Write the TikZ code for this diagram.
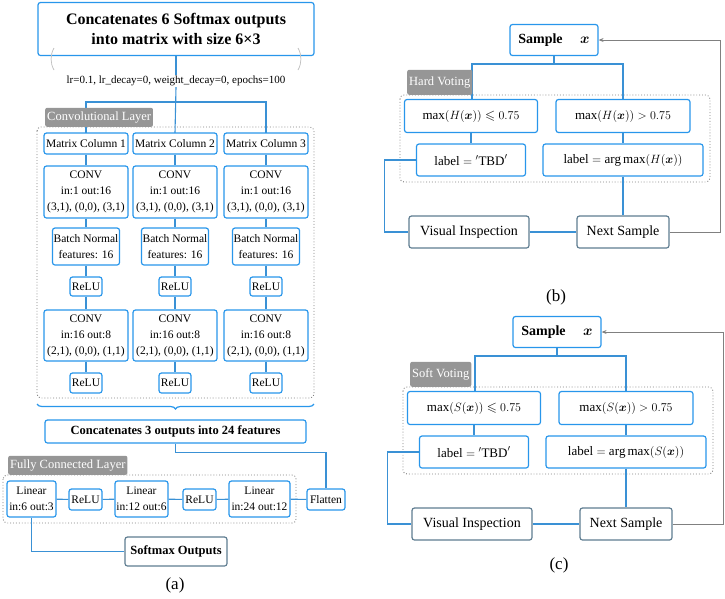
\documentclass[tikz,border=0pt]{standalone}
\usepackage{amsmath,amssymb}
\usepackage{fontspec}
\setmainfont{Liberation Serif}
\usetikzlibrary{arrows.meta,positioning,decorations.pathreplacing}

\definecolor{boxblue}{RGB}{40,150,235}
\definecolor{boxgray}{RGB}{95,125,145}
\definecolor{tabgray}{RGB}{150,150,150}

\tikzset{
  blk/.style={draw=boxblue,fill=white,line width=1.2pt,rounded corners=2.5pt,align=center,
    inner sep=1pt,font=\fontsize{11.5}{16}\selectfont},
  outblk/.style={blk,draw=boxgray},
  wire/.style={draw=boxblue!80!gray,line width=1.1pt},
  group/.style={draw=gray,dotted,line width=0.9pt,rounded corners=4pt},
  tab/.style={fill=tabgray,text=white,rounded corners=2pt,inner sep=2pt,anchor=south west,
    font=\fontsize{12.5}{13}\selectfont},
  mth/.style={font=\fontsize{13}{14}\selectfont},
}

\newcommand{\votingpanel}[5]{% shift, tab text, function, letter, caption y
\begin{scope}[shift={#1}]
  \node[blk,minimum width=88pt,minimum height=31pt,font=\fontsize{14}{15}\selectfont\bfseries] (samp) at (554,40) {Sample \quad $\boldsymbol{x}$};
  \coordinate (split) at (554,64);
  \draw[group] (400,95) rectangle (710,182);
  \draw[wire] (samp.south) -- (split) -| (472,100);
  \draw[wire] (split) -| (623,100);
  \node[tab,minimum height=25pt] (vtab) at (407,95) {#2};
  \node[blk,mth,minimum width=133pt,minimum height=33pt] (low) at (471,116) {$\max(#3(\boldsymbol{x}))\leqslant 0.75$};
  \node[blk,mth,minimum width=134pt,minimum height=33pt] (high) at (623,116) {$\max(#3(\boldsymbol{x}))>0.75$};
  \node[blk,mth,minimum width=109pt,minimum height=32pt] (tbd) at (471,160) {$\text{label}={}'\text{TBD}'$};
  \node[blk,mth,minimum width=160pt,minimum height=32pt] (amax) at (623,160) {$\text{label}=\arg\max(#3(\boldsymbol{x}))$};
  \node[outblk,minimum width=120pt,minimum height=32pt,font=\fontsize{14}{15}\selectfont] (vis) at (469,232) {Visual Inspection};
  \node[outblk,minimum width=92pt,minimum height=32pt,font=\fontsize{14}{15}\selectfont] (next) at (623,232) {Next Sample};
  \draw[wire] (low) -- (tbd);
  \draw[wire] (high) -- (amax);
  \draw[wire] (amax) -- (next);
  \draw[wire] (tbd.west) -- ++(-31,0) |- (vis.west);
  \draw[wire] (vis) -- (next);
  \draw[draw=gray,line width=0.9pt,-{Stealth[length=5pt,width=4pt]}] (next.east) -- ++(51,0) |- (samp.east);
  \node[font=\fontsize{17}{18}\selectfont] (cap) at (556,#5) {(#4)};
\end{scope}}

\begin{document}
\begin{tikzpicture}[x=1pt,y=-1pt]
  \useasboundingbox (0,0) rectangle (725,598);

  % (a) convolutional part
  \node[blk,minimum width=276pt,minimum height=53pt,font=\fontsize{16}{20}\selectfont\bfseries] (concat6) at (176,29) {Concatenates 6 Softmax outputs\\into matrix with size 6×3};
  \node[font=\fontsize{11}{12}\selectfont,fill=white,inner sep=1pt] (params) at (176,81) {lr=0.1, lr\_decay=0, weight\_decay=0, epochs=100};
  \draw[gray!50,line width=0.7pt] (54,70) arc[start angle=150,end angle=210,radius=22];
  \draw[gray!50,line width=0.7pt] (298,70) arc[start angle=30,end angle=-30,radius=22];
  \coordinate (csplit) at (175,102);

  \draw[group] (37,127) rectangle (314,398);
  \draw[wire] (concat6.south) -- (params.north);
  \draw[wire] (params.south) -- (175,133);
  \draw[wire] (86,133) |- (csplit) -| (266,133);
  \node[tab,minimum height=19pt] (convtab) at (45,127) {Convolutional Layer};

  \foreach \c/\x in {1/86,2/175,3/266}{
    \node[blk,minimum width=84pt,minimum height=21pt] (col\c) at (\x,143.5) {Matrix Column \c};
    \node[blk,minimum width=84pt,minimum height=52pt] (convA\c) at (\x,192) {CONV\\in:1 out:16\\(3,1), (0,0), (3,1)};
    \node[blk,minimum width=67pt,minimum height=37pt] (bn\c) at (\x,246.5) {Batch Normal\\features: 16};
    \node[blk,minimum width=32pt,minimum height=19pt] (reluA\c) at (\x,286.5) {ReLU};
    \node[blk,minimum width=84pt,minimum height=51pt] (convB\c) at (\x,335.5) {CONV\\in:16 out:8\\(2,1), (0,0), (1,1)};
    \node[blk,minimum width=32pt,minimum height=20pt] (reluB\c) at (\x,383) {ReLU};
    \draw[wire] (col\c) -- (convA\c);
    \draw[wire] (convA\c) -- (bn\c);
    \draw[wire] (bn\c) -- (reluA\c);
    \draw[wire] (reluA\c) -- (convB\c);
    \draw[wire] (convB\c) -- (reluB\c);
  }

  \draw[boxblue,line width=1.2pt,decorate,decoration={brace,mirror,amplitude=5pt}] (37,404) -- (314,404);
  \node[blk,minimum width=261pt,minimum height=23pt,font=\fontsize{12.5}{13}\selectfont\bfseries] (concat3) at (175.5,431.5) {Concatenates 3 outputs into 24 features};

  % (a) fully connected part
  \draw[group] (3,475) rectangle (296,523);
  \node[tab,minimum height=19pt] (fctab) at (8,475) {Fully Connected Layer};
  \node[blk,minimum width=49pt,minimum height=36pt] (lin1) at (31.5,499) {Linear\\in:6 out:3};
  \node[blk,minimum width=33pt,minimum height=21pt] (relu1) at (85.5,499.5) {ReLU};
  \node[blk,minimum width=53pt,minimum height=36pt] (lin2) at (141.5,499) {Linear\\in:12 out:6};
  \node[blk,minimum width=33pt,minimum height=21pt] (relu2) at (199.5,499.5) {ReLU};
  \node[blk,minimum width=61pt,minimum height=36pt] (lin3) at (259.5,499) {Linear\\in:24 out:12};
  \node[blk,minimum width=38pt,minimum height=21pt] (flat) at (326,499.5) {Flatten};
  \node[outblk,minimum width=102pt,minimum height=29pt,font=\fontsize{12.5}{13}\selectfont\bfseries] (soft) at (176,551.5) {Softmax Outputs};
  \draw[wire] (concat3.south) -- ++(0,9) -| (flat.north);
  \draw[wire] (flat) -- (lin3);
  \draw[wire] (lin3) -- (relu2);
  \draw[wire] (relu2) -- (lin2);
  \draw[wire] (lin2) -- (relu1);
  \draw[wire] (relu1) -- (lin1);
  \draw[wire] (lin1.south) |- (soft.west);
  \node[font=\fontsize{17}{18}\selectfont] (capa) at (175,585) {(a)};

  % (b) and (c)
  \votingpanel{(0,0)}{Hard Voting}{H}{b}{297}
  \votingpanel{(3,292)}{Soft Voting}{S}{c}{273}
\end{tikzpicture}
\end{document}
